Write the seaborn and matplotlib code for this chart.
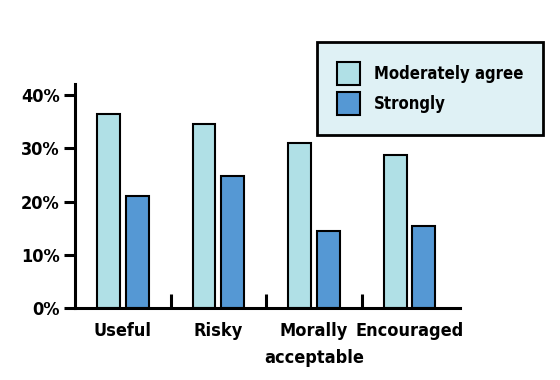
import pandas as pd
import seaborn as sns
import matplotlib.pyplot as plt
from matplotlib.ticker import FuncFormatter

# chart data
categories = ["Useful", "Risky", "Morally\nacceptable", "Encouraged"]
moderately = [36.5, 34.5, 31.0, 28.8]
strongly = [21.0, 24.8, 14.5, 15.4]
series = ["Moderately agree", "Strongly"]
yticks = [0, 10, 20, 30, 40]

df = pd.DataFrame({
    "category": categories * 2,
    "value": moderately + strongly,
    "level": [series[0]] * 4 + [series[1]] * 4,
})

sns.set_style("white")
plt.rcParams["font.family"] = ["DejaVu Sans"]
plt.rcParams["font.stretch"] = "condensed"
plt.rcParams["text.color"] = "black"

fig = plt.figure(figsize=(5.6, 3.8), dpi=100)
ax = fig.add_axes([0.134, 0.189, 0.6875, 0.589])

sns.barplot(data=df, x="category", y="value", hue="level", order=categories,
            hue_order=series, palette=["#b0e0e6", "#5598d4"], saturation=1,
            width=0.6, gap=0.2, edgecolor="black", linewidth=1.5, ax=ax)

ax.set_xlim(-0.5, 3.53)
ax.set_ylim(0, 42)
ax.set_yticks(yticks)
ax.yaxis.set_major_formatter(FuncFormatter(lambda v, p: f"{v:.0f}%"))
ax.set_xlabel("")
ax.set_ylabel("")

sns.despine(ax=ax)
for s in ["left", "bottom"]:
    ax.spines[s].set_linewidth(2.2)
    ax.spines[s].set_color("black")

ax.tick_params(axis="y", length=8, width=2.2, color="black", left=True,
               labelsize=13, labelcolor="black", pad=3)
ax.tick_params(axis="x", which="major", length=0, labelsize=13,
               labelcolor="black", pad=10)
# little separators between the groups
ax.set_xticks([0.5, 1.5, 2.5], minor=True)
ax.tick_params(axis="x", which="minor", direction="in", length=10, width=2.2,
               color="black", bottom=True)
for lab in ax.get_xticklabels() + ax.get_yticklabels():
    lab.set_fontweight("bold")
    lab.set_fontstretch("condensed")
    lab.set_linespacing(1.65)

leg = ax.legend(loc="upper right", bbox_to_anchor=(0.97, 0.889),
                bbox_transform=fig.transFigure, frameon=True, fancybox=False,
                framealpha=1, facecolor="#dff1f5", edgecolor="black",
                prop={"size": 12, "weight": "bold", "stretch": "condensed"},
                handlelength=1.4, handleheight=1.7, borderpad=1.2,
                labelspacing=0.45, handletextpad=0.8, borderaxespad=0)
leg.get_frame().set_linewidth(2)
for t in leg.get_texts():
    t.set_color("black")

fig.savefig("out.png", dpi=100)
